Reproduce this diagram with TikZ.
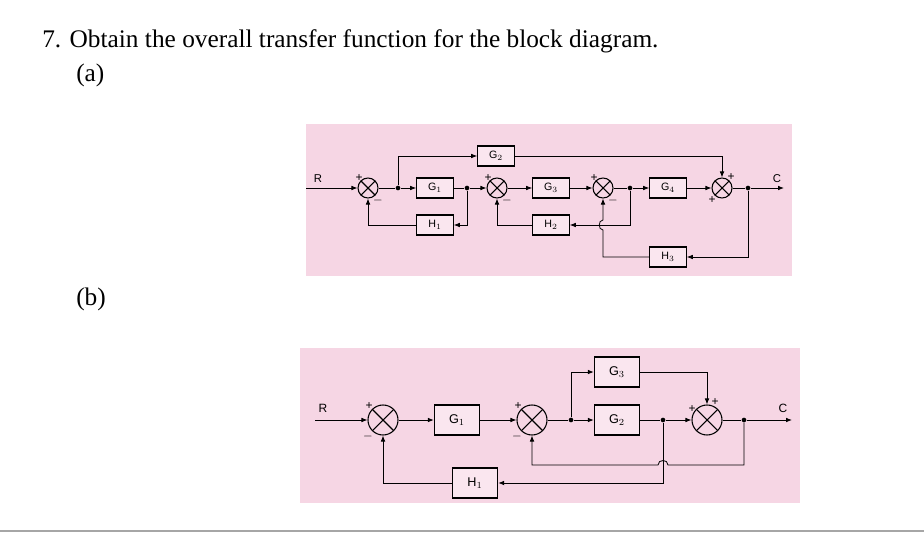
\documentclass[tikz,border=0pt]{standalone}
\usepackage{fontspec}
\setmainfont{Liberation Serif}
\newfontfamily\lsans{Liberation Sans}
\usetikzlibrary{arrows.meta}
\definecolor{pinkbg}{RGB}{246,214,228}
\begin{document}
\begin{tikzpicture}[x=0.75pt,y=-0.75pt,
  sumA/.style={circle,draw,thick,minimum size=15pt,inner sep=0pt,
    path picture={\draw (path picture bounding box.north west)--(path picture bounding box.south east)
      (path picture bounding box.north east)--(path picture bounding box.south west);}},
  sumB/.style={sumA,minimum size=22.5pt},
  blkA/.style={draw,thick,fill=pinkbg!60,minimum width=27.5pt,minimum height=15pt,inner sep=0pt,font=\lsans\fontsize{8}{9}\selectfont},
  blkB/.style={blkA,minimum width=34pt,minimum height=22.5pt,font=\lsans\fontsize{9.5}{10}\selectfont},
  dotn/.style={circle,fill,inner sep=0pt,minimum size=3.5pt},
  sig/.style={font=\lsans\fontsize{9}{9}\selectfont,inner sep=0.5pt},
  ln/.style={semithick},
  arr/.style={semithick,-{Latex[length=4.5pt,width=3.5pt]}}]
\useasboundingbox (0,0) rectangle (924,535);
\fill[white] (0,0) rectangle (924,535);
\node[anchor=base west,font=\fontsize{19}{22}\selectfont,inner sep=0] (title) at (42,48) {7. Obtain the overall transfer function for the block diagram.};
\node[anchor=base west,font=\fontsize{19}{22}\selectfont,inner sep=0] (la) at (76,82) {(a)};
\node[anchor=base west,font=\fontsize{19}{22}\selectfont,inner sep=0] (lb) at (76,305) {(b)};
\draw[gray!70,line width=1pt] (0,531) -- (924,531);
% ---------------- (a)
\fill[pinkbg] (306,124) rectangle (792,276);
\coordinate (Ra) at (306,188);
\node[sig,font=\lsans\fontsize{8.5}{9}\selectfont] (Rla) at (318,179) {R};
\node[sumA] (s1) at (368,188) {};
\node[dotn] (d1) at (398,188) {};
\node[blkA] (G1) at (435,188) {G$_1$};
\node[dotn] (d2) at (467,188) {};
\node[sumA] (s2) at (497,188) {};
\node[blkA] (G3) at (551,188) {G$_3$};
\node[sumA] (s3) at (603,188) {};
\node[dotn] (d3) at (630,188) {};
\node[blkA] (G4) at (668,188) {G$_4$};
\node[sumA] (s4) at (722,188) {};
\node[dotn] (d4) at (748,188) {};
\coordinate (Ca) at (784,188);
\node[sig,font=\lsans\fontsize{8.5}{9}\selectfont] (Cla) at (777,179) {C};
\node[blkA] (G2) at (496,156) {G$_2$};
\node[blkA] (H1) at (435,225) {H$_1$};
\node[blkA] (H2) at (551,225) {H$_2$};
\node[blkA] (H3) at (668,257) {H$_3$};
\draw[arr] (Ra) -- (s1);
\draw[ln] (s1) -- (d1);
\draw[arr] (d1) -- (G1);
\draw[ln] (G1) -- (d2);
\draw[arr] (d2) -- (s2);
\draw[arr] (s2) -- (G3);
\draw[arr] (G3) -- (s3);
\draw[ln] (s3) -- (d3);
\draw[arr] (d3) -- (G4);
\draw[arr] (G4) -- (s4);
\draw[ln] (s4) -- (d4);
\draw[arr] (d4) -- (Ca);
\draw[arr] (d1) |- (G2);
\draw[arr] (G2) -| (s4);
\draw[arr] (d2) |- (H1);
\draw[arr] (H1) -| (s1);
\draw[arr] (d3) |- (H2);
\draw[arr] (H2) -| (s2);
\draw[arr] (d4) |- (H3);
\draw[arr] (H3) -| (603,230) .. controls (598,230) and (598,220) .. (603,220) -- (s3);
\node[sig] (p1) at (359,178) {+}; \node[sig] (m1) at (378,200) {$-$};
\node[sig] (p2) at (488,178) {+}; \node[sig] (m2) at (507,200) {$-$};
\node[sig] (p3) at (594,178) {+}; \node[sig] (m3) at (613,200) {$-$};
\node[sig] (p4) at (731,177) {+}; \node[sig] (p5) at (712,200) {+};
% ---------------- (b)
\fill[pinkbg] (300,348) rectangle (800,503);
\coordinate (Rb) at (315,420);
\node[sig,font=\lsans\fontsize{9}{10}\selectfont] (Rlb) at (323,408) {R};
\node[sumB] (t1) at (383,420) {};
\node[blkB] (B1) at (457,420) {G$_1$};
\node[sumB] (t2) at (532,420) {};
\node[dotn] (e1) at (571,420) {};
\node[blkB] (B2) at (617,420) {G$_2$};
\node[blkB] (B3) at (617,372) {G$_3$};
\node[dotn] (e2) at (663,420) {};
\node[sumB] (t3) at (707,420) {};
\node[dotn] (e3) at (744,420) {};
\coordinate (Cb) at (792,420);
\node[sig,font=\lsans\fontsize{9}{10}\selectfont] (Clb) at (783,408) {C};
\node[blkB] (K1) at (475,483) {H$_1$};
\draw[arr] (Rb) -- (t1);
\draw[arr] (t1) -- (B1);
\draw[arr] (B1) -- (t2);
\draw[ln] (t2) -- (e1);
\draw[arr] (e1) -- (B2);
\draw[arr] (e1) |- (B3);
\draw[ln] (B2) -- (e2);
\draw[arr] (e2) -- (t3);
\draw[arr] (B3) -| (t3);
\draw[ln] (t3) -- (e3);
\draw[arr] (e3) -- (Cb);
\draw[arr] (e3) |- (668,465) .. controls (668,459) and (658,459) .. (658,465) -| (t2);
\draw[arr] (e2) |- (K1);
\draw[arr] (K1) -| (t1);
\node[sig] (q1) at (369,406) {+}; \node[sig] (n1) at (368,436) {$-$};
\node[sig] (q2) at (518,406) {+}; \node[sig] (n2) at (517,436) {$-$};
\node[sig] (q3) at (692,409) {+}; \node[sig] (q4) at (715,402) {+};
\end{tikzpicture}
\end{document}
